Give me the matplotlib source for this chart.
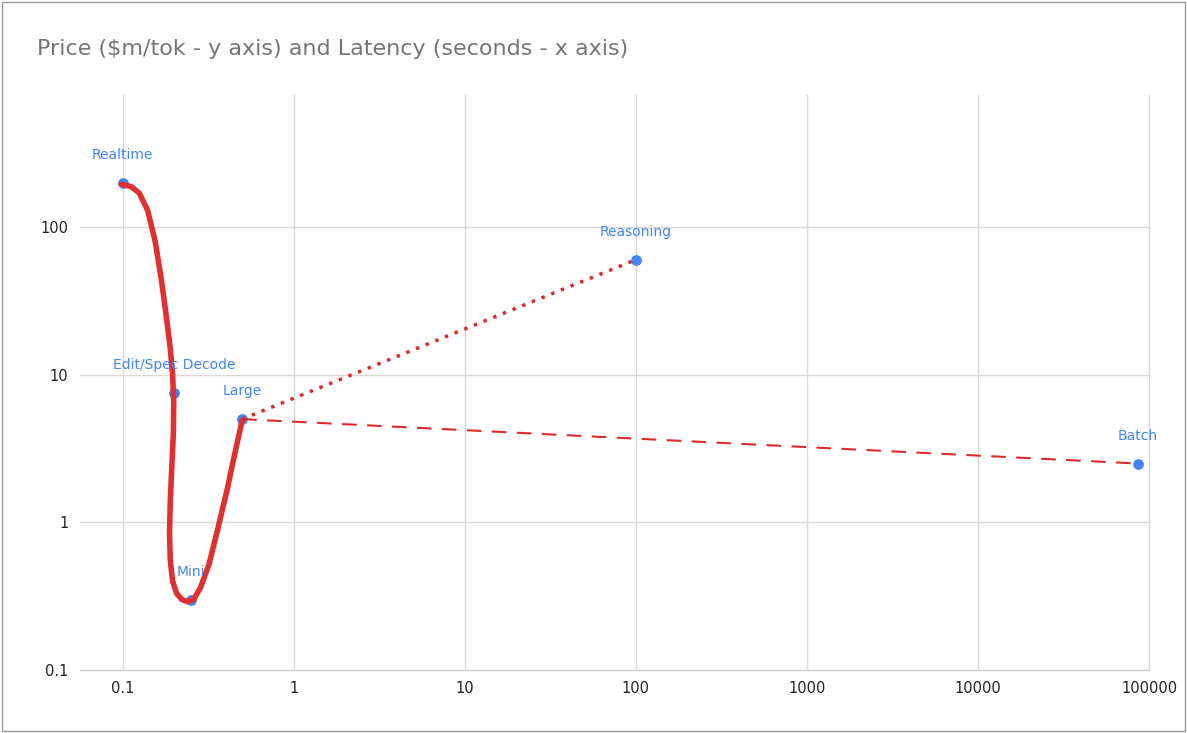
import matplotlib
matplotlib.use("Agg")
import matplotlib.pyplot as plt
from matplotlib.ticker import FixedLocator, FixedFormatter, NullLocator
from matplotlib.patches import Rectangle

labels = ["Realtime", "Edit/Spec Decode", "Mini", "Large", "Reasoning", "Batch"]
latency = [0.1, 0.2, 0.25, 0.5, 100, 86400]
price = [200, 7.5, 0.3, 5, 60, 2.5]

# hand-drawn red curve (annotation) control points
curve_x = [0.098, 0.112, 0.125, 0.14, 0.155, 0.168, 0.18, 0.19, 0.196, 0.199, 0.198, 0.194, 0.19,
           0.188, 0.19, 0.196, 0.207, 0.222, 0.24, 0.26, 0.285, 0.32, 0.36, 0.41, 0.455, 0.5]
curve_y = [195, 188, 170, 130, 80, 45, 25, 15, 10, 6.5, 4, 2.4, 1.4,
           0.85, 0.55, 0.4, 0.33, 0.3, 0.29, 0.3, 0.36, 0.52, 0.9, 1.7, 3.0, 4.9]

fig = plt.figure(figsize=(11.87, 7.33), dpi=100)
ax = fig.add_axes([0.067, 0.086, 0.901, 0.784])
ax.set_xscale("log"); ax.set_yscale("log")
ax.set_xlim(0.056, 100000); ax.set_ylim(0.1, 780)

ax.xaxis.set_major_locator(FixedLocator([0.1, 1, 10, 100, 1000, 10000, 100000]))
ax.xaxis.set_major_formatter(FixedFormatter(["0.1", "1", "10", "100", "1000", "10000", "100000"]))
ax.yaxis.set_major_locator(FixedLocator([0.1, 1, 10, 100]))
ax.yaxis.set_major_formatter(FixedFormatter(["0.1", "1", "10", "100"]))
ax.xaxis.set_minor_locator(NullLocator()); ax.yaxis.set_minor_locator(NullLocator())
ax.grid(True, color="#d9d9d9", linewidth=1, clip_on=False)
ax.set_axisbelow(True)
for s in ax.spines.values():
    s.set_visible(False)
ax.spines["bottom"].set_visible(True); ax.spines["bottom"].set_color("#cccccc")
ax.tick_params(length=0, labelsize=10.5, colors="#222222", pad=8)

ax.plot(curve_x, curve_y, color="#e03030", linewidth=4, solid_capstyle="round",
        solid_joinstyle="round", zorder=4)
ax.plot([latency[3], latency[4]], [price[3], price[4]], color="#d92b2b", linewidth=2.5,
        linestyle=(0, (1, 2)), zorder=4)
ax.plot([latency[3], latency[5]], [price[3], price[5]], color="#d92b2b", linewidth=1.5,
        linestyle=(0, (7, 5)), zorder=4)
ax.scatter(latency, price, s=45, color="#4285f4", zorder=3)
for x, y, t in zip(latency, price, labels):
    ax.annotate(t, (x, y), xytext=(0, 17), textcoords="offset points", ha="center",
                color="#4285f4", fontsize=10, zorder=5)

fig.text(0.031, 0.925, "Price ($m/tok - y axis) and Latency (seconds - x axis)",
         fontsize=16, color="#757575")
fig.patches.append(Rectangle((0.002, 0.003), 0.996, 0.994, transform=fig.transFigure,
                             fill=False, edgecolor="#999999", linewidth=1))
fig.savefig("out.png", dpi=100)
